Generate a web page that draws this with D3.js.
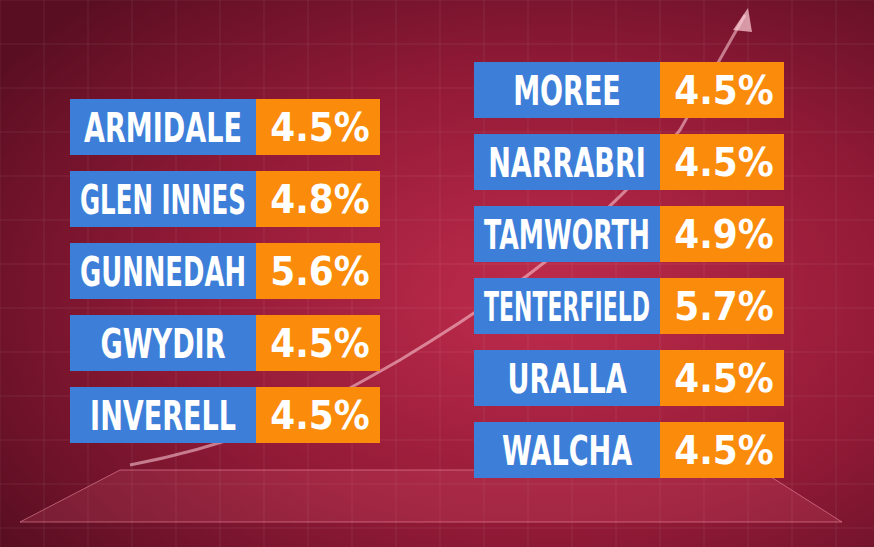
<!DOCTYPE html>
<html><head><meta charset="utf-8">
<script src="https://cdn.jsdelivr.net/npm/d3@7"></script>
<style>body{margin:0;background:#6e1228}</style>
</head><body>
<svg id="chart" width="874" height="547"></svg>
<script>
const leftTowns = ['ARMIDALE', 'GLEN INNES', 'GUNNEDAH', 'GWYDIR', 'INVERELL']
const leftRates = [4.5, 4.8, 5.6, 4.5, 4.5]
const rightTowns = ['MOREE', 'NARRABRI', 'TAMWORTH', 'TENTERFIELD', 'URALLA', 'WALCHA']
const rightRates = [4.5, 4.5, 4.9, 5.7, 4.5, 4.5]

const svg = d3.select('#chart')
const W = 874, H = 547
const blue = '#3d7fd8'
const orange = '#fb8b0b'
const font = '"DejaVu Sans", sans-serif'

// background
const defs = svg.append('defs')
const bg = defs.append('radialGradient').attr('id', 'bg').attr('cx', '62%').attr('cy', '55%').attr('r', '75%')
bg.append('stop').attr('offset', '0%').attr('stop-color', '#c02c4c')
bg.append('stop').attr('offset', '55%').attr('stop-color', '#921a37')
bg.append('stop').attr('offset', '100%').attr('stop-color', '#5a0e22')
svg.append('rect').attr('width', W).attr('height', H).attr('fill', 'url(#bg)')

// grid
const grid = svg.append('g').attr('stroke', '#ffffff').attr('stroke-opacity', 0.08)
d3.range(0, W, 44).forEach(x => grid.append('line').attr('x1', x).attr('x2', x).attr('y1', 0).attr('y2', H))
d3.range(0, H, 44).forEach(y => grid.append('line').attr('y1', y).attr('y2', y).attr('x1', 0).attr('x2', W))

// floor plane
svg.append('path').attr('d', 'M20,522 L120,470 L760,470 L842,522 Z')
  .attr('fill', '#ff7090').attr('fill-opacity', 0.15).attr('stroke', '#ffa0b4').attr('stroke-opacity', 0.5)

// trend line + arrow
svg.append('path').attr('d', 'M130,465 C260,440 330,400 400,360 C500,300 600,230 680,130 L745,15')
  .attr('fill', 'none').attr('stroke', '#ffd0da').attr('stroke-opacity', 0.55).attr('stroke-width', 3)
svg.append('path').attr('d', 'M748,8 L733,30 L752,32 Z').attr('fill', '#ffd0da').attr('fill-opacity', 0.7)

// condensed text: squeeze horizontally, then fit into maxW
function condensed(sel, cx, cy, maxW, squeeze) {
  sel.each(function () {
    const t = d3.select(this).attr('x', 0).attr('y', 0)
    const w = this.getComputedTextLength()
    const s = Math.min(squeeze, maxW / w)
    t.attr('transform', `translate(${cx},${cy}) scale(${s},1)`)
  })
}

function drawColumn(towns, rates, x0, y0) {
  const y = d3.scaleBand().domain(towns).range([y0, y0 + towns.length * 72 - 16]).paddingInner(16 / 72)
  const g = svg.append('g')
  const row = g.selectAll('g.row').data(towns).enter().append('g')
    .attr('class', 'row').attr('transform', d => `translate(${x0},${y(d)})`)
  row.append('rect').attr('width', 186).attr('height', y.bandwidth()).attr('fill', blue)
  row.append('rect').attr('x', 186).attr('width', 124).attr('height', y.bandwidth()).attr('fill', orange)
  row.append('text').text(d => d)
    .attr('text-anchor', 'middle').attr('fill', '#fff').style('font-family', font)
    .style('font-weight', 'bold').style('font-size', '41px')
    .call(condensed, 93, y.bandwidth() / 2 + 15, 166, 0.66)
  row.append('text').text((d, i) => rates[i].toFixed(1) + '%')
    .attr('text-anchor', 'middle').attr('fill', '#fff').style('font-family', font)
    .style('font-weight', 'bold').style('font-size', '39px')
    .call(condensed, 250, y.bandwidth() / 2 + 14, 100, 0.92)
}

drawColumn(leftTowns, leftRates, 70, 99)
drawColumn(rightTowns, rightRates, 474, 62)
</script>
</body></html>
